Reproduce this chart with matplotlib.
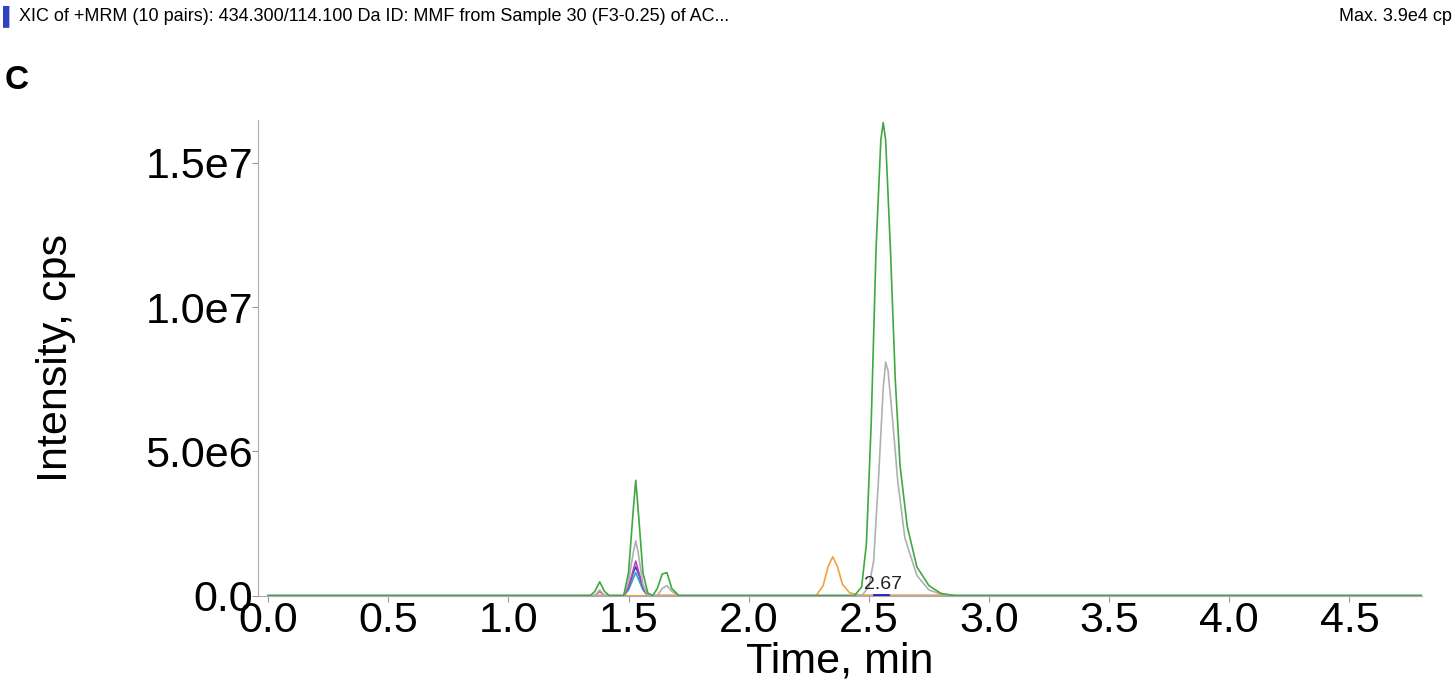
import matplotlib.pyplot as plt

plt.rcParams['font.family'] = ['Liberation Sans', 'DejaVu Sans']

# trace samples: time (min), intensity (1e6 cps)
green_t = [0.0, 1.34, 1.36, 1.38, 1.40, 1.42, 1.48, 1.50, 1.52, 1.53, 1.54, 1.56, 1.58, 1.60,
           1.62, 1.64, 1.66, 1.68, 1.71, 2.44, 2.47, 2.49, 2.51, 2.53, 2.55, 2.56, 2.57, 2.59,
           2.61, 2.63, 2.66, 2.70, 2.75, 2.80, 2.86, 4.80]
green_y = [0, 0, 0.15, 0.48, 0.15, 0, 0, 0.8, 3.0, 4.0, 3.0, 0.8, 0.1, 0,
           0.25, 0.75, 0.8, 0.25, 0, 0, 0.3, 1.8, 6.0, 12.0, 15.8, 16.4, 15.8, 12.0,
           7.5, 4.5, 2.4, 1.0, 0.35, 0.08, 0, 0]
gray_t = [0.0, 1.36, 1.38, 1.40, 1.48, 1.50, 1.52, 1.53, 1.54, 1.56, 1.58, 1.62, 1.64, 1.66,
          1.68, 1.71, 2.47, 2.50, 2.52, 2.54, 2.56, 2.57, 2.58, 2.60, 2.62, 2.65, 2.70, 2.75,
          2.82, 4.80]
gray_y = [0, 0, 0.2, 0, 0, 0.5, 1.5, 1.9, 1.5, 0.4, 0, 0, 0.25, 0.35,
          0.15, 0, 0, 0.3, 1.2, 4.0, 7.2, 8.1, 7.8, 6.0, 4.0, 2.0, 0.7, 0.2, 0, 0]
orange_t = [0.0, 2.28, 2.31, 2.33, 2.35, 2.37, 2.39, 2.42, 2.46, 2.50, 4.80]
orange_y = [0, 0, 0.35, 1.0, 1.35, 1.0, 0.4, 0.1, 0.02, 0, 0]
magenta_t = [0.0, 1.36, 1.38, 1.40, 1.48, 1.50, 1.52, 1.53, 1.54, 1.56, 1.58, 4.80]
magenta_y = [0, 0, 0.15, 0, 0, 0.3, 0.9, 1.2, 0.9, 0.3, 0, 0]
blue_t = [0.0, 1.48, 1.50, 1.52, 1.53, 1.54, 1.56, 1.58, 4.80]
blue_y = [0, 0, 0.3, 0.8, 1.0, 0.8, 0.3, 0, 0]
cyan_t = [0.0, 1.48, 1.50, 1.52, 1.53, 1.54, 1.56, 1.58, 4.80]
cyan_y = [0, 0, 0.2, 0.6, 0.8, 0.6, 0.2, 0, 0]

x_ticks = [0.0, 0.5, 1.0, 1.5, 2.0, 2.5, 3.0, 3.5, 4.0, 4.5]
y_ticks = [0, 5e6, 1e7, 1.5e7]
y_labels = ['0.0', '5.0e6', '1.0e7', '1.5e7']

fig = plt.figure(figsize=(14.52, 7), dpi=100)
ax = fig.add_axes([0.178, 0.149, 0.801, 0.68])

for t, y, c in [(cyan_t, cyan_y, '#20b0c0'), (blue_t, blue_y, '#3040c0'),
                (magenta_t, magenta_y, '#c040c0'), (orange_t, orange_y, '#f5a040'),
                (gray_t, gray_y, '#b0b0b0'), (green_t, green_y, '#40a840')]:
    ax.plot(t, [v * 1e6 for v in y], color=c, lw=1.2)

ax.plot([2.52, 2.58], [0.02e6, 0.02e6], color='#2020c0', lw=2)
ax.text(2.56, 0.1e6, '2.67', fontsize=14, ha='center', va='bottom', color='#222222')

ax.set_xlim(-0.04, 4.80)
ax.set_ylim(0, 1.65e7)
ax.set_xticks(x_ticks)
ax.set_xticklabels([f'{v:.1f}' for v in x_ticks], fontsize=31)
ax.set_yticks(y_ticks)
ax.set_yticklabels(y_labels, fontsize=31)
ax.tick_params(length=4, color='#999999', pad=0)
for s in ['top', 'right']:
    ax.spines[s].set_visible(False)
for s in ['left', 'bottom']:
    ax.spines[s].set_color('#aaaaaa')
ax.set_xlabel('Time, min', fontsize=31, labelpad=0)
ax.set_ylabel('Intensity, cps', fontsize=31, labelpad=50)

fig.text(0.002, 0.977, '\u258c', fontsize=13, color='#3040c0', va='center')
fig.text(0.013, 0.977, 'XIC of +MRM (10 pairs): 434.300/114.100 Da ID: MMF from Sample 30 (F3-0.25) of AC...',
         fontsize=13, va='center')
fig.text(0.922, 0.977, 'Max. 3.9e4 cps', fontsize=13, va='center')
fig.text(0.003, 0.885, 'C', fontsize=24, fontweight='bold', va='center')

fig.savefig('out.png')
